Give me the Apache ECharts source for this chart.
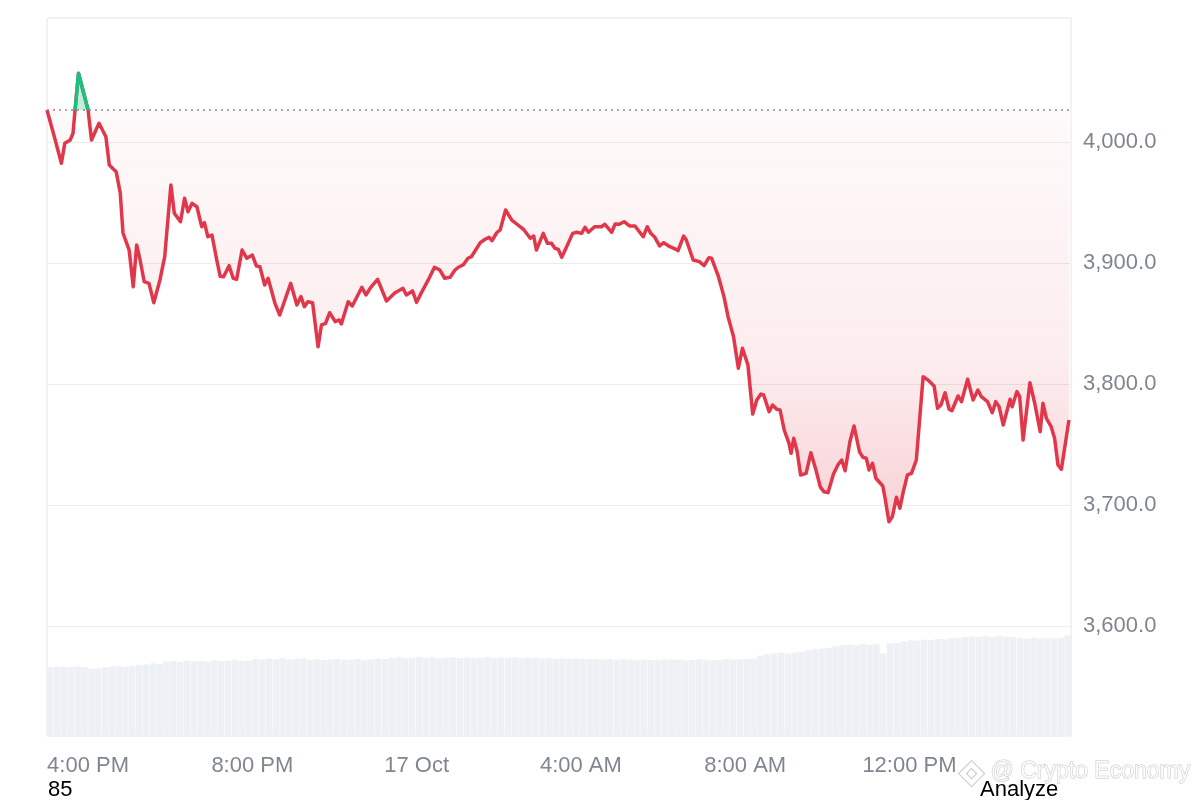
<!DOCTYPE html>
<html>
<head>
<meta charset="utf-8">
<style>
html,body{margin:0;padding:0;background:#ffffff;}
#chart{width:1200px;height:800px;}
</style>
<script src="https://cdn.jsdelivr.net/npm/echarts@6/dist/echarts.min.js"></script>
</head>
<body>
<div id="chart"></div>
<script>
// ---------- data ----------
// reference (opening) price drawn as the dotted line
const openPrice = 4026.4;

// minutes after 3:00 PM, 16 Oct
const times = [0,12,21,26,34,38,41,46,60,65,76,86,91,101,107,111,120,126,131,136,142,149,156,165,172,181,186,195,201,206,212,219,226,230,235,241,248,253,258,266,272,277,285,292,300,306,311,318,323,333,340,356,365,371,376,381,388,396,401,407,413,421,427,430,440,446,460,466,473,483,496,508,520,525,534,540,547,557,566,574,581,589,596,601,608,615,620,633,640,646,650,657,662,670,679,688,696,706,711,715,725,731,737,742,747,752,757,768,774,781,786,791,800,810,815,825,830,836,843,851,859,871,877,882,888,895,901,910,919,922,930,934,944,953,960,967,971,981,989,995,1003,1010,1016,1024,1031,1037,1043,1047,1055,1060,1066,1071,1077,1084,1087,1091,1096,1101,1109,1116,1122,1130,1135,1141,1149,1156,1161,1166,1173,1179,1187,1192,1197,1201,1206,1211,1221,1224,1230,1235,1241,1246,1251,1257,1263,1270,1280,1287,1296,1301,1306,1312,1318,1322,1331,1336,1345,1353,1360,1365,1374,1381,1386,1391,1397,1407,1410,1417,1421,1426,1436,1443,1451,1455,1460,1467,1472,1477,1482,1493];

// price (USD)
const prices = [4026.4,4001.7,3982.4,3998.9,4001.7,4007.2,4026.4,4056.8,4026.4,4001.7,4015.5,4004.4,3981.0,3975.5,3957.9,3924.8,3910.7,3880.4,3914.9,3902.5,3884.6,3883.2,3867.2,3886.0,3905.2,3964.5,3941.1,3934.1,3953.5,3942.4,3949.3,3946.5,3930.0,3933.3,3921.7,3923.1,3902.5,3889.0,3888.7,3897.8,3887.4,3886.5,3910.7,3903.9,3906.6,3897.5,3897.0,3881.8,3887.4,3866.7,3857.0,3883.2,3865.3,3872.2,3863.9,3868.0,3867.2,3830.8,3848.8,3850.2,3858.9,3851.5,3852.9,3849.6,3868.0,3864.5,3879.9,3873.6,3879.9,3886.5,3868.6,3875.2,3879.1,3873.6,3876.9,3867.5,3875.5,3886.0,3896.5,3894.2,3887.4,3888.2,3894.2,3896.5,3898.4,3903.9,3905.2,3916.8,3919.6,3921.2,3918.4,3925.0,3927.3,3943.8,3935.5,3931.4,3927.9,3920.4,3922.3,3910.7,3924.5,3916.3,3916.3,3912.2,3911.3,3904.7,3910.7,3924.5,3925.4,3924.5,3929.5,3925.4,3930.0,3930.0,3932.0,3925.4,3932.2,3932.0,3934.1,3930.6,3930.6,3921.7,3930.0,3924.5,3921.2,3914.1,3916.8,3913.5,3911.3,3910.2,3922.3,3919.0,3902.5,3901.1,3897.8,3904.4,3903.9,3888.7,3872.2,3855.6,3839.1,3813.0,3829.5,3815.7,3775.2,3786.8,3791.7,3790.9,3777.1,3782.6,3779.1,3778.5,3762.0,3751.0,3742.7,3755.1,3744.0,3724.8,3726.2,3743.2,3731.7,3714.6,3711.0,3710.2,3725.6,3733.6,3737.2,3728.3,3752.3,3765.3,3744.0,3739.4,3738.6,3728.9,3734.5,3722.1,3715.7,3706.9,3686.2,3690.3,3706.4,3697.3,3711.0,3724.8,3726.2,3737.2,3806.0,3803.3,3798.3,3779.9,3782.6,3792.8,3779.1,3777.9,3790.1,3785.4,3803.9,3786.8,3795.0,3789.5,3785.4,3776.3,3785.4,3781.2,3766.1,3787.4,3781.2,3793.7,3789.5,3753.7,3801.1,3784.1,3760.6,3784.1,3771.7,3764.7,3755.1,3733.1,3729.5,3770.2];

// traded volume per 10-minute step (USD billions, rolling)
const volumes = [31.6,31.9,31.7,31.8,32.0,31.7,30.9,31.2,31.6,31.9,32.1,31.8,32.2,32.6,32.9,33.4,33.0,
34.1,34.4,34.0,34.6,34.3,34.5,34.2,34.8,34.4,34.6,34.9,34.5,34.7,
35.4,35.1,35.6,35.3,35.8,35.2,35.5,35.7,
35.0,35.3,34.9,35.2,35.4,35.0,35.1,35.5,34.8,35.2,35.6,35.3,
35.9,36.2,35.8,36.0,36.3,35.9,36.1,35.7,36.0,36.2,35.8,36.1,35.9,36.0,36.3,35.8,36.1,35.9,36.2,35.7,36.0,35.9,35.6,35.8,35.5,35.7,35.4,35.6,35.3,35.5,35.4,
35.1,35.3,34.9,35.2,35.0,34.8,35.1,35.0,34.9,35.2,35.0,35.1,34.8,35.0,35.2,35.1,34.9,35.0,35.3,35.1,35.2,35.4,35.6,
36.9,37.6,38.0,38.3,37.9,38.4,38.8,39.4,39.8,40.2,40.5,
41.2,41.8,42.0,41.6,42.2,41.9,42.4,38.0,42.6,42.8,
43.5,44.0,43.8,44.3,44.1,44.6,44.4,44.9,45.0,
45.4,45.8,45.5,45.9,45.6,46.0,45.7,45.5,
45.0,44.7,45.1,44.8,45.0,44.9,45.2,46.2];

// axis ticks
const xTickTimes = [60, 300, 540, 780, 1020, 1260];
const xTickLabels = ['4:00 PM', '8:00 PM', '17 Oct', '4:00 AM', '8:00 AM', '12:00 PM'];
const yTicks = [3600, 3700, 3800, 3900, 4000];

// ---------- chart ----------
const FONT = '"Liberation Sans", Arial, Helvetica, sans-serif';
const RED = '#e0384a';
const GREEN = '#1dbf7e';
const LABEL = '#80868f';

const priceData = times.map((t, i) => [t, prices[i]]);
// part of the line at or above the opening price (green), the rest left as gaps
const upData = times.map((t, i) => [t, prices[i] >= openPrice && (prices[i] > openPrice || prices[i - 1] > openPrice || prices[i + 1] > openPrice) ? prices[i] : null]);

function fmtPrice(v) {
  return String(Math.round(v)).replace(/\B(?=(\d{3})+(?!\d))/g, ',') + '.0';
}

const chart = echarts.init(document.getElementById('chart'), null, { renderer: 'canvas' });

const option = {
  animation: false,
  backgroundColor: '#ffffff',
  grid: [
    { left: 47, right: 129, top: 21, bottom: 53 },
    { left: 47, right: 129, top: 18, bottom: 64, show: true, borderColor: '#e6e6e6', borderWidth: 1, backgroundColor: 'transparent' }
  ],
  xAxis: [
    {
      type: 'value', gridIndex: 0, min: 0, max: 1496,
      axisLine: { show: false }, axisTick: { show: false }, splitLine: { show: false },
      axisLabel: {
        customValues: xTickTimes,
        formatter: v => { const k = xTickTimes.indexOf(v); return k >= 0 ? xTickLabels[k] : ''; },
        color: LABEL, fontSize: 22, fontFamily: FONT, margin: 8
      }
    },
    { type: 'category', gridIndex: 1, data: volumes.map((_, i) => i), show: false, boundaryGap: true }
  ],
  yAxis: [
    {
      type: 'value', gridIndex: 0, position: 'right', min: 3500, max: 4100, interval: 100,
      axisLine: { show: false }, axisTick: { show: false },
      splitLine: { show: true, lineStyle: { width: 1, color: ['rgba(0,0,0,0)', '#ececec', '#ececec', '#ececec', '#ececec', '#ececec', 'rgba(0,0,0,0)'] } },
      axisLabel: {
        formatter: v => (yTicks.indexOf(v) >= 0 ? fmtPrice(v) : ''),
        color: LABEL, fontSize: 22, fontFamily: FONT, margin: 12
      }
    },
    { type: 'value', gridIndex: 1, min: 0, max: 330, show: false }
  ],
  series: [
    {
      name: 'Price', type: 'line', xAxisIndex: 0, yAxisIndex: 0, data: priceData,
      symbol: 'none', showSymbol: false, smooth: false, z: 3,
      lineStyle: { width: 3.5, color: RED, join: 'round' },
      areaStyle: {
        origin: openPrice,
        color: {
          type: 'linear', x: 0, y: 110, x2: 0, y2: 525, global: true,
          colorStops: [
            { offset: 0, color: 'rgba(226,58,75,0.04)' },
            { offset: 0.6, color: 'rgba(226,58,75,0.13)' },
            { offset: 1, color: 'rgba(226,58,75,0.33)' }
          ]
        }
      },
      markLine: {
        silent: true, symbol: ['none', 'none'], label: { show: false },
        lineStyle: { type: [2, 4], color: '#8a8a8a', width: 1.5 },
        data: [ { yAxis: openPrice } ]
      }
    },
    {
      name: 'Above open', type: 'line', xAxisIndex: 0, yAxisIndex: 0, data: upData,
      symbol: 'none', showSymbol: false, connectNulls: false, z: 4,
      lineStyle: { width: 3.5, color: GREEN, join: 'round' },
      areaStyle: { origin: openPrice, color: 'rgba(34,200,135,0.38)' }
    },
    {
      name: 'Volume', type: 'bar', xAxisIndex: 1, yAxisIndex: 1, data: volumes,
      itemStyle: { color: '#edf0f4' }, barCategoryGap: '6%', z: 1
    }
  ],
  graphic: [
    {
      type: 'group', left: 958, top: 760,
      children: [
        { type: 'polygon', shape: { points: [[13,0],[26,13],[13,26],[0,13]] }, style: { fill: 'rgba(255,255,255,0.6)', stroke: '#cfcfcf', lineWidth: 1.2 } },
        { type: 'polygon', shape: { points: [[13,8],[18,13],[13,18],[8,13]] }, style: { fill: 'none', stroke: '#cfcfcf', lineWidth: 1.2 } }
      ]
    },
    {
      type: 'text', left: 990, top: 760,
      style: { text: '@ Crypto Economy', fontSize: 23, fontFamily: FONT, fill: 'rgba(255,255,255,0.85)', stroke: '#c6c6c6', lineWidth: 1 }
    },
    {
      type: 'text', left: 48, top: 779,
      style: { text: '85', fontSize: 22, fontFamily: FONT, fill: '#000000' }
    },
    {
      type: 'text', left: 980, top: 779,
      style: { text: 'Analyze', fontSize: 22, fontFamily: FONT, fill: '#000000' }
    }
  ]
};

chart.setOption(option);
</script>
</body>
</html>
